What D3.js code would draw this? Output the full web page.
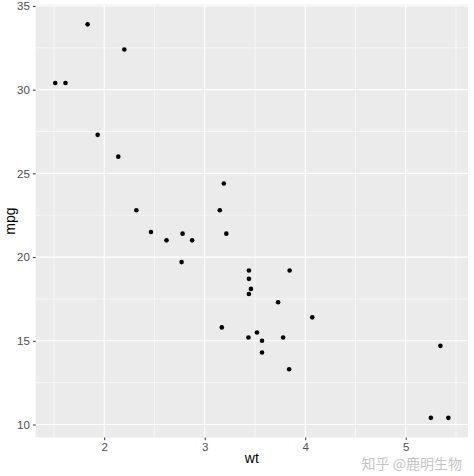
<!DOCTYPE html>
<html>
<head>
<meta charset="utf-8">
<script src="https://cdn.jsdelivr.net/npm/d3@7"></script>
<style>
body { margin: 0; background: #fff; }
svg { display: block; font-family: "Liberation Sans", Arial, sans-serif; }
</style>
</head>
<body>
<div id="chart"></div>
<script>
// mtcars: weight (1000 lbs) and miles per gallon
const wt  = [2.620, 2.875, 2.320, 3.215, 3.440, 3.460, 3.570, 3.190, 3.150, 3.440, 3.440,
             4.070, 3.730, 3.780, 5.250, 5.424, 5.345, 2.200, 1.615, 1.835, 2.465, 3.520,
             3.435, 3.840, 3.845, 1.935, 2.140, 1.513, 3.170, 2.770, 3.570, 2.780];
const mpg = [21.0, 21.0, 22.8, 21.4, 18.7, 18.1, 14.3, 24.4, 22.8, 19.2, 17.8,
             16.4, 17.3, 15.2, 10.4, 10.4, 14.7, 32.4, 30.4, 33.9, 21.5, 15.5,
             15.2, 13.3, 19.2, 27.3, 26.0, 30.4, 15.8, 19.7, 15.0, 21.4];
const xTicks = [2, 3, 4, 5];
const yTicks = [10, 15, 20, 25, 30, 35];
const xMinor = [1.5, 2.5, 3.5, 4.5, 5.5];
const yMinor = [12.5, 17.5, 22.5, 27.5, 32.5];

const W = 474, H = 476;
const pLeft = 35.6, pRight = 468, pTop = 4.7, pBottom = 437.5;

const svg = d3.select("#chart").append("svg")
  .attr("width", W).attr("height", H);

// ggplot-style 5% expansion
const xExt = d3.extent(wt), yExt = d3.extent(mpg);
const xPad = (xExt[1] - xExt[0]) * 0.05, yPad = (yExt[1] - yExt[0]) * 0.05;
const x = d3.scaleLinear().domain([xExt[0] - xPad, xExt[1] + xPad]).range([pLeft, pRight]);
const y = d3.scaleLinear().domain([yExt[0] - yPad, yExt[1] + yPad]).range([pBottom, pTop]);

// panel
svg.append("rect")
  .attr("x", pLeft).attr("y", pTop)
  .attr("width", pRight - pLeft).attr("height", pBottom - pTop)
  .attr("fill", "#EBEBEB");

const grid = svg.append("g");
grid.selectAll(".xminor").data(xMinor).enter().append("line")
  .attr("x1", d => x(d)).attr("x2", d => x(d)).attr("y1", pTop).attr("y2", pBottom)
  .attr("stroke", "#fff").attr("stroke-width", 0.55);
grid.selectAll(".yminor").data(yMinor).enter().append("line")
  .attr("y1", d => y(d)).attr("y2", d => y(d)).attr("x1", pLeft).attr("x2", pRight)
  .attr("stroke", "#fff").attr("stroke-width", 0.55);
grid.selectAll(".xmajor").data(xTicks).enter().append("line")
  .attr("x1", d => x(d)).attr("x2", d => x(d)).attr("y1", pTop).attr("y2", pBottom)
  .attr("stroke", "#fff").attr("stroke-width", 1.1);
grid.selectAll(".ymajor").data(yTicks).enter().append("line")
  .attr("y1", d => y(d)).attr("y2", d => y(d)).attr("x1", pLeft).attr("x2", pRight)
  .attr("stroke", "#fff").attr("stroke-width", 1.1);

// axes
const xAxis = d3.axisBottom(x).tickValues(xTicks).tickFormat(d3.format("d")).tickSize(2.7).tickPadding(3);
const gx = svg.append("g").attr("transform", "translate(0," + pBottom + ")").call(xAxis);
const yAxis = d3.axisLeft(y).tickValues(yTicks).tickFormat(d3.format("d")).tickSize(2.7).tickPadding(3);
const gy = svg.append("g").attr("transform", "translate(" + pLeft + ",0)").call(yAxis);
[gx, gy].forEach(g => {
  g.select(".domain").remove();
  g.selectAll(".tick line").attr("stroke", "#333").attr("stroke-width", 1);
  g.selectAll(".tick text").attr("fill", "#4D4D4D").style("font-size", "11.5px");
});

// points
svg.append("g").selectAll("circle")
  .data(wt.map((d, i) => [d, mpg[i]]))
  .enter().append("circle")
  .attr("cx", d => x(d[0])).attr("cy", d => y(d[1]))
  .attr("r", 2.3).attr("fill", "#000");

// titles
svg.append("text")
  .attr("x", (pLeft + pRight) / 2).attr("y", 463)
  .attr("text-anchor", "middle").style("font-size", "14px").text("wt");
svg.append("text")
  .attr("transform", "translate(15," + ((pTop + pBottom) / 2) + ") rotate(-90)")
  .attr("text-anchor", "middle").style("font-size", "14px").text("mpg");

// watermark, nudged a little below the "5" label
svg.append("text")
  .attr("x", 462).attr("y", 469)
  .attr("text-anchor", "end")
  .style("font-family", "'Noto Sans CJK SC', sans-serif")
  .style("font-size", "14px")
  .attr("fill", "#c4c4c4")
  .text("知乎 @鹿明生物");
</script>
</body>
</html>
